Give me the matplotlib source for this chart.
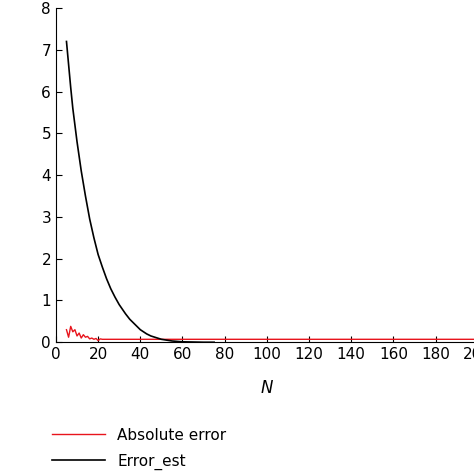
import matplotlib
matplotlib.use("Agg")
import matplotlib.pyplot as plt

n_est = [5, 6, 7, 8, 9, 10, 12, 14, 16, 18, 20, 22, 24, 26, 28, 30, 33, 35, 38, 40, 43, 45, 50, 55, 60, 65, 70, 75]
err_est = [7.2, 6.65, 6.1, 5.6, 5.2, 4.8, 4.1, 3.5, 2.95, 2.5, 2.1, 1.8, 1.52, 1.28, 1.08, 0.9, 0.68, 0.55, 0.4, 0.3, 0.2, 0.15, 0.07, 0.03, 0.01, 0.005, 0.0, 0.0]

n_abs = [5, 6, 7, 8, 9, 10, 11, 12, 13, 14, 15, 16, 17, 18, 19, 20, 21, 22, 25, 30, 40, 60, 100, 150, 200]
abs_err = [0.3, 0.12, 0.38, 0.25, 0.3, 0.15, 0.22, 0.1, 0.18, 0.12, 0.14, 0.08, 0.1, 0.07, 0.09, 0.04, 0.08, 0.07, 0.07, 0.07, 0.07, 0.07, 0.07, 0.07, 0.07]

fig = plt.figure(figsize=(4.74, 4.74), dpi=100)
ax = fig.add_axes([0.118, 0.278, 0.89, 0.705])
ax.plot(n_abs, abs_err, color="#e8141c", lw=1.0, label="Absolute error")
ax.plot(n_est, err_est, color="black", lw=1.2, label="Error_est")
ax.set_xlim(0, 200)
ax.set_ylim(0, 8)
ax.set_xticks(range(0, 201, 20))
ax.set_yticks(range(0, 9))
ax.spines["top"].set_visible(False)
ax.spines["right"].set_visible(False)
ax.tick_params(direction="in", labelsize=11, length=4)
ax.set_xlabel("N", fontstyle="italic", fontsize=12, labelpad=12)
fig.legend(loc="lower left", bbox_to_anchor=(0.08, -0.02), frameon=False, fontsize=11, handlelength=3.5, labelspacing=0.7)
fig.savefig("out.png", dpi=100)
